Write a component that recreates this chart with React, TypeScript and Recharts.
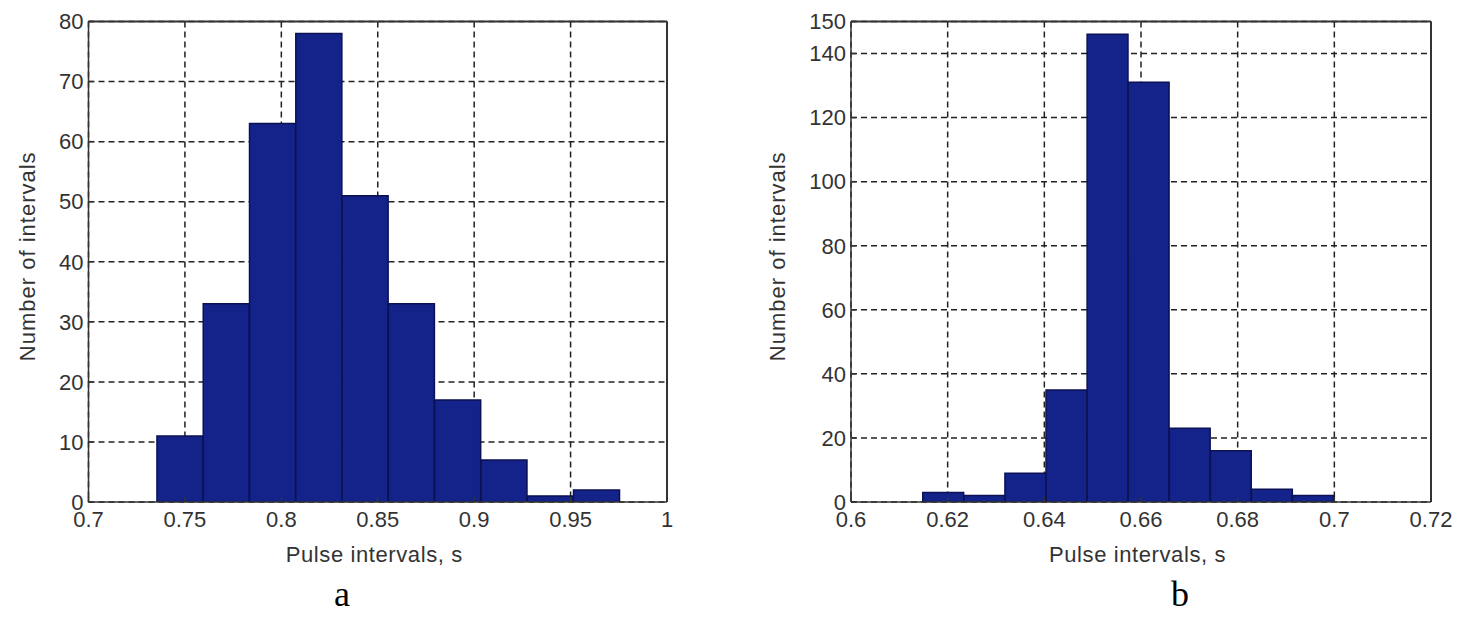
import React from "react";
import { ComposedChart, Bar, XAxis, YAxis, CartesianGrid, ReferenceLine } from "recharts";

const binsA = [0.7475, 0.7715, 0.7955, 0.8195, 0.8435, 0.8675, 0.8915, 0.9155, 0.9395, 0.9635];
const countsA = [11, 33, 63, 78, 51, 33, 17, 7, 1, 2];
const xTicksA = [0.7, 0.75, 0.8, 0.85, 0.9, 0.95, 1];
const yTicksA = [0, 10, 20, 30, 40, 50, 60, 70, 80];

const binsB = [0.6191, 0.6276, 0.6361, 0.6446, 0.6531, 0.6616, 0.6701, 0.6786, 0.6871, 0.6956];
const countsB = [3, 2, 9, 35, 146, 131, 23, 16, 4, 2];
const xTicksB = [0.6, 0.62, 0.64, 0.66, 0.68, 0.7, 0.72];
const yTicksB = [0, 20, 40, 60, 80, 100, 120, 140, 150];

const xLabel = "Pulse intervals, s";
const yLabel = "Number of intervals";
const inkColor = "#333333";
const barFill = "#14238a";
const barEdge = "#0b1152";
const sansFont = "'Liberation Sans', Arial, sans-serif";

type HistProps = {
  left: number;
  width: number;
  plotLeft: number;
  plotRight: number;
  bins: number[];
  counts: number[];
  xTicks: number[];
  yTicks: number[];
  labelDx: number;
  yTickMargin: number;
};

function Histogram({ left, width, plotLeft, plotRight, bins, counts, xTicks, yTicks, labelDx, yTickMargin }: HistProps) {
  const data = bins.map((bin, i) => ({ bin, count: counts[i] }));
  const xDomain = [xTicks[0], xTicks[xTicks.length - 1]];
  const yDomain = [yTicks[0], yTicks[yTicks.length - 1]];
  const plotWidth = width - plotLeft - plotRight;
  // just under the bin width, otherwise recharts shrinks the bars to 90%
  const barSize = ((bins[1] - bins[0]) / (xDomain[1] - xDomain[0])) * plotWidth * 0.995;
  const tickStyle = { fontSize: 22, fill: inkColor, fontFamily: sansFont };

  return (
    <div style={{ position: "absolute", left, top: 0 }}>
      <ComposedChart
        width={width}
        height={625}
        data={data}
        margin={{ top: 21.5, right: plotRight, bottom: 63, left: 0 }}
      >
        <CartesianGrid stroke="#222222" strokeWidth={1.5} strokeDasharray="6 4" />
        <XAxis
          dataKey="bin"
          type="number"
          domain={xDomain}
          ticks={xTicks}
          interval={0}
          height={60}
          tick={tickStyle}
          tickSize={-5}
          tickMargin={14}
          stroke={inkColor}
          strokeWidth={1.5}
          allowDataOverflow
          label={{
            value: xLabel,
            position: "bottom",
            offset: -16,
            dx: -3.5,
            style: { fontSize: 22, fill: inkColor, fontFamily: sansFont, letterSpacing: 0.6 },
          }}
        />
        <YAxis
          type="number"
          domain={yDomain}
          ticks={yTicks}
          interval={0}
          width={plotLeft}
          tick={tickStyle}
          tickSize={-5}
          tickMargin={yTickMargin}
          stroke={inkColor}
          strokeWidth={1.5}
          allowDataOverflow
          label={{
            value: yLabel,
            angle: -90,
            position: "insideLeft",
            dx: labelDx,
            dy: -5.5,
            style: { textAnchor: "middle", fontSize: 22, fill: inkColor, fontFamily: sansFont, letterSpacing: 1 },
          }}
        />
        <Bar
          dataKey="count"
          barSize={barSize}
          fill={barFill}
          stroke={barEdge}
          strokeWidth={1.5}
          isAnimationActive={false}
        />
        <ReferenceLine y={yDomain[1]} stroke={inkColor} strokeWidth={2} />
        <ReferenceLine x={xDomain[1]} stroke={inkColor} strokeWidth={2} />
      </ComposedChart>
    </div>
  );
}

function Caption({ text, x }: { text: string; x: number }) {
  return (
    <div
      style={{
        position: "absolute",
        left: x - 20,
        width: 40,
        top: 576,
        textAlign: "center",
        fontFamily: "'Liberation Serif', 'Times New Roman', serif",
        fontSize: 36,
        lineHeight: "36px",
        color: "#000000",
      }}
    >
      {text}
    </div>
  );
}

export default function App() {
  return (
    <div style={{ position: "absolute", left: 0, top: 0, width: 1459, height: 625, background: "#ffffff", overflow: "hidden" }}>
      <Histogram left={0} width={730} plotLeft={88.5} plotRight={63} bins={binsA} counts={countsA} xTicks={xTicksA} yTicks={yTicksA} labelDx={22} yTickMargin={10} />
      <Histogram left={730} width={729} plotLeft={121} plotRight={28} bins={binsB} counts={countsB} xTicks={xTicksB} yTicks={yTicksB} labelDx={42} yTickMargin={10} />
      <Caption text="a" x={342} />
      <Caption text="b" x={1180} />
    </div>
  );
}
